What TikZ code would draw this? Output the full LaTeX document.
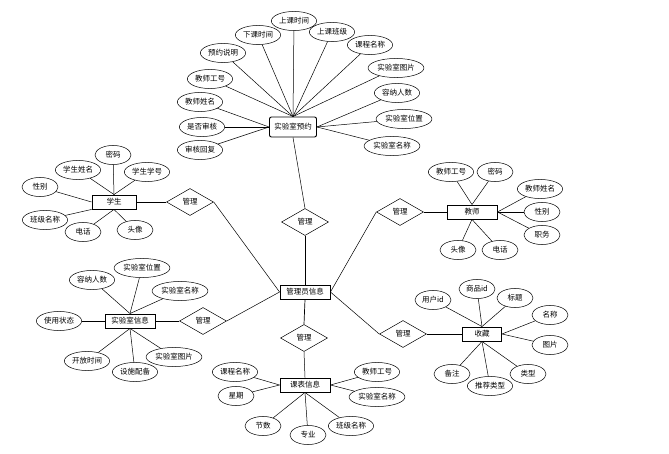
\documentclass[tikz,border=0pt]{standalone}
\usepackage{fontspec}
\setmainfont{Noto Sans CJK SC}
\usetikzlibrary{shapes.geometric}
\begin{document}
\begin{tikzpicture}[x=1pt,y=-1pt,
  every node/.style={font=\fontsize{7.5}{8}\selectfont},
  attr/.style={ellipse,draw,line width=0.5pt,inner xsep=1pt,inner ysep=3pt,
    text height=6pt,text depth=1.5pt,minimum width=36pt,minimum height=19pt},
  ent/.style={rectangle,draw,line width=0.9pt,minimum width=50pt,minimum height=14pt,inner sep=0pt},
  rel/.style={diamond,draw,line width=0.5pt,minimum width=47pt,minimum height=27pt,inner sep=0pt},
  ln/.style={line width=0.5pt},
  rl/.style={line width=0.7pt}]
\useasboundingbox (0,0) rectangle (669,454);

% central
\node[ent] (admin) at (305,292) {管理员信息};

% reservation
\node[ent,rounded corners=2pt,minimum width=47pt,minimum height=20pt] (resv) at (293,127) {实验室预约};
\node[attr] (r1) at (294,21) {上课时间};
\node[attr] (r2) at (258,35) {下课时间};
\node[attr] (r3) at (332,32) {上课班级};
\node[attr] (r4) at (370,45) {课程名称};
\node[attr] (r5) at (396,68) {实验室图片};
\node[attr] (r6) at (397,93) {容纳人数};
\node[attr] (r7) at (404,119) {实验室位置};
\node[attr] (r8) at (392,146) {实验室名称};
\node[attr] (r9) at (223,53) {预约说明};
\node[attr] (r10) at (210,79) {教师工号};
\node[attr] (r11) at (200,102) {教师姓名};
\node[attr] (r12) at (202,127) {是否审核};
\node[attr] (r13) at (200,150) {审核回复};
\foreach \a in {r1,r2,r3,r4,r5,r9,r10} \draw[ln] (\a) -- (resv.north);
\foreach \a in {r11,r12,r13} \draw[ln] (\a) -- (resv.west);
\foreach \a in {r6,r7,r8} \draw[ln] (\a) -- (resv.east);
\node[rel] (d1) at (305,222) {管理};
\draw[ln] (resv.south) -- (d1.north);
\draw[rl] (d1.south) -- (admin.north);

% student
\node[ent,minimum width=44pt] (stu) at (114,202) {学生};
\node[attr] (s1) at (113,155) {密码};
\node[attr] (s2) at (78,170) {学生姓名};
\node[attr] (s3) at (147,172) {学生学号};
\node[attr] (s4) at (40,187) {性别};
\node[attr] (s5) at (45,220) {班级名称};
\node[attr] (s6) at (83,232) {电话};
\node[attr] (s7) at (135,230) {头像};
\foreach \a in {s1,s2,s3} \draw[ln] (\a) -- (stu.north);
\draw[ln] (s4) -- (stu.west);
\draw[ln] (s5) -- (stu.south west);
\foreach \a in {s6,s7} \draw[ln] (\a) -- (stu.south);
\node[rel] (d2) at (190,202) {管理};
\draw[rl] (stu.east) -- (d2.west);
\draw[ln] (d2.east) -- (admin.west);

% teacher
\node[ent] (tea) at (472,212) {教师};
\node[attr] (t1) at (451,172) {教师工号};
\node[attr] (t2) at (495,172) {密码};
\node[attr] (t3) at (540,189) {教师姓名};
\node[attr] (t4) at (542,212) {性别};
\node[attr] (t5) at (542,235) {职务};
\node[attr] (t6) at (458,250) {头像};
\node[attr] (t7) at (500,250) {电话};
\foreach \a in {t1,t2} \draw[ln] (\a) -- (tea.north);
\foreach \a in {t3,t5} \draw[ln] (\a) -- (tea.east);
\draw[rl] (t4) -- (tea.east);
\foreach \a in {t6,t7} \draw[ln] (\a) -- (tea.south);
\node[rel] (d3) at (400,212) {管理};
\draw[rl] (d3.east) -- (tea.west);
\draw[ln] (d3.west) -- (admin.east);

% lab info
\node[ent] (lab) at (130,321) {实验室信息};
\node[attr] (l1) at (92,280) {容纳人数};
\node[attr] (l2) at (142,268) {实验室位置};
\node[attr] (l3) at (180,291) {实验室名称};
\node[attr] (l4) at (59,321) {使用状态};
\node[attr] (l5) at (87,361) {开放时间};
\node[attr] (l6) at (135,372) {设施配备};
\node[attr] (l7) at (174,357) {实验室图片};
\foreach \a in {l1,l2,l3} \draw[ln] (\a) -- (lab.north);
\draw[rl] (l4) -- (lab.west);
\foreach \a in {l5,l6,l7} \draw[ln] (\a) -- (lab.south);
\node[rel] (d4) at (203,321) {管理};
\draw[rl] (lab.east) -- (d4.west);
\draw[ln] (d4.east) -- (admin.west);

% favourites
\node[ent,minimum width=39pt] (fav) at (482,334) {收藏};
\node[attr] (f1) at (433,300) {用户id};
\node[attr] (f2) at (477,289) {商品id};
\node[attr] (f3) at (515,298) {标题};
\node[attr] (f4) at (550,315) {名称};
\node[attr] (f5) at (550,345) {图片};
\node[attr] (f6) at (452,374) {备注};
\node[attr] (f7) at (490,386) {推荐类型};
\node[attr] (f8) at (528,374) {类型};
\foreach \a in {f1,f2,f3} \draw[ln] (\a) -- (fav.north);
\foreach \a in {f4,f5} \draw[ln] (\a) -- (fav.east);
\foreach \a in {f6,f7,f8} \draw[ln] (\a) -- (fav.south);
\node[rel] (d5) at (403,334) {管理};
\draw[ln] (d5.east) -- (fav.west);
\draw[ln] (d5.west) -- (admin.east);

% timetable
\node[ent] (tt) at (305,385) {课表信息};
\node[attr] (c1) at (235,372) {课程名称};
\node[attr] (c2) at (236,396) {星期};
\node[attr] (c3) at (263,426) {节数};
\node[attr] (c4) at (308,435) {专业};
\node[attr] (c5) at (351,426) {班级名称};
\node[attr] (c6) at (377,372) {教师工号};
\node[attr] (c7) at (377,397) {实验室名称};
\foreach \a in {c1,c2} \draw[ln] (\a) -- (tt.west);
\foreach \a in {c6,c7} \draw[ln] (\a) -- (tt.east);
\foreach \a in {c3,c4,c5} \draw[ln] (\a) -- (tt.south);
\node[rel] (d6) at (304,338) {管理};
\draw[rl] (admin.south) -- (d6.north);
\draw[ln] (d6.south) -- (tt.north);
\end{tikzpicture}
\end{document}
